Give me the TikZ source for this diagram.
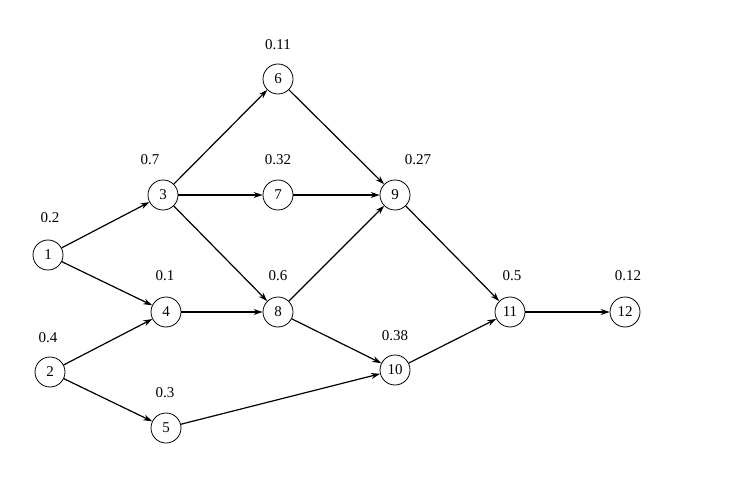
\documentclass[tikz,border=0pt]{standalone}
\usepackage{fontspec}
\setmainfont{Liberation Serif}
\usetikzlibrary{arrows.meta}
\begin{document}
\begin{tikzpicture}[x=1pt,y=-1pt,
  nd/.style={circle,draw,line width=0.8pt,minimum size=30pt,inner sep=0pt,font=\fontsize{15}{15}\selectfont},
  lb/.style={font=\fontsize{15}{15}\selectfont},
  ar/.style={-{Stealth[length=9pt,width=6pt]},line width=1.2pt}]
\useasboundingbox (0,0) rectangle (738,486);
\node[nd] (n1) at (48,255) {1};
\node[nd] (n2) at (50,372) {2};
\node[nd] (n3) at (163,195) {3};
\node[nd] (n4) at (166,312) {4};
\node[nd] (n5) at (166,428) {5};
\node[nd] (n6) at (278,79) {6};
\node[nd] (n7) at (278,195) {7};
\node[nd] (n8) at (278,312) {8};
\node[nd] (n9) at (395,195) {9};
\node[nd] (n10) at (395,370) {10};
\node[nd] (n11) at (510,312) {11};
\node[nd] (n12) at (625,312) {12};
\node[lb] (l1) at (50,218) {0.2};
\node[lb] (l2) at (48,338) {0.4};
\node[lb] (l3) at (150,160) {0.7};
\node[lb] (l4) at (165,276) {0.1};
\node[lb] (l5) at (165,393) {0.3};
\node[lb] (l6) at (278,45) {0.11};
\node[lb] (l7) at (278,160) {0.32};
\node[lb] (l8) at (278,276) {0.6};
\node[lb] (l9) at (418,160) {0.27};
\node[lb] (l10) at (395,336) {0.38};
\node[lb] (l11) at (512,276) {0.5};
\node[lb] (l12) at (628,276) {0.12};
\draw[ar] (n1)--(n3);
\draw[ar] (n1)--(n4);
\draw[ar] (n2)--(n4);
\draw[ar] (n2)--(n5);
\draw[ar] (n3)--(n6);
\draw[ar] (n3)--(n7);
\draw[ar] (n3)--(n8);
\draw[ar] (n4)--(n8);
\draw[ar] (n5)--(n10);
\draw[ar] (n6)--(n9);
\draw[ar] (n7)--(n9);
\draw[ar] (n8)--(n9);
\draw[ar] (n8)--(n10);
\draw[ar] (n9)--(n11);
\draw[ar] (n10)--(n11);
\draw[ar] (n11)--(n12);
\end{tikzpicture}
\end{document}
